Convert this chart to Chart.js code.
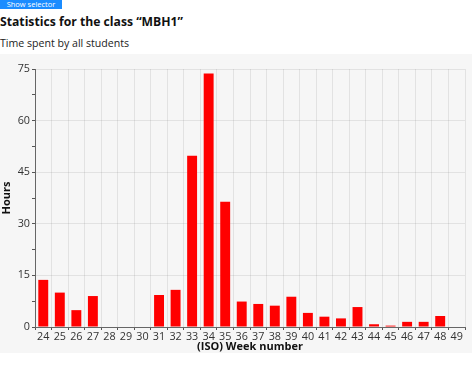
<!DOCTYPE html>
<html>
<head>
<meta charset="utf-8">
<script src="https://cdn.jsdelivr.net/npm/chart.js@4"></script>
<style>
  body { margin: 0; font-family: "Open Sans", "Noto Sans", sans-serif; background: #fff; }
  #btn-selector { position: absolute; left: 0; top: 0; width: 62px; height: 9px; background: #1a8cff; color: #fff; font-size: 7.5px; line-height: 9px; text-align: center; }
  h1 { position: absolute; left: 0; top: 13px; margin: 0; font-size: 12.2px; font-weight: bold; color: #111; }
  h2 { position: absolute; left: 0; top: 36px; margin: 0; font-size: 10.6px; font-weight: normal; color: #222; }
  #wrap { position: absolute; left: 0; top: 54px; width: 472px; height: 299px; background: #f6f6f6; }
</style>
</head>
<body>
<div id="btn-selector">Show selector</div>
<h1>Statistics for the class “MBH1”</h1>
<h2>Time spent by all students</h2>
<div id="wrap"><canvas id="chart"></canvas></div>
<script>
// Semanas ISO e horas gastas
const weeks = ['24','25','26','27','28','29','30','31','32','33','34','35','36','37','38','39','40','41','42','43','44','45','46','47','48','49'];
const hours = [13.7, 10.0, 4.9, 9.0, 0, 0, 0, 9.3, 10.8, 49.8, 73.7, 36.4, 7.4, 6.7, 6.2, 8.8, 4.1, 3.0, 2.5, 5.8, 0.8, 0.4, 1.5, 1.5, 3.2, 0];
const yMax = 75;
const yStep = 7.5; // marcas menores a cada 7.5, rótulos a cada 15

const tickFont = { family: 'Open Sans', size: 10.8 };
const titleFont = { family: 'Open Sans', size: 11, weight: 'bold' };

const ctx = document.getElementById('chart').getContext('2d');
new Chart(ctx, {
  type: 'bar',
  data: {
    labels: weeks,
    datasets: [{
      label: 'Hours',
      data: hours,
      backgroundColor: '#ff0000',
      borderWidth: 0,
      categoryPercentage: 1,
      barPercentage: 0.6
    }]
  },
  options: {
    responsive: true,
    maintainAspectRatio: false,
    animation: false,
    layout: { padding: { top: 15, right: 7, left: 0, bottom: 0 } },
    plugins: {
      legend: { display: false },
      tooltip: { enabled: false }
    },
    scales: {
      x: {
        afterFit: (s) => { s.height = 26; },
        grid: {
          offset: true,
          color: 'rgba(0,0,0,0.08)',
          tickColor: '#555',
          tickLength: 3
        },
        border: { color: '#666' },
        ticks: { color: '#333', font: tickFont, padding: 0, maxRotation: 0, autoSkip: false },
        title: { display: true, text: '(ISO) Week number', color: '#111', font: titleFont, padding: { top: 0, bottom: 0 } }
      },
      y: {
        min: 0,
        max: yMax,
        afterFit: (s) => { s.width = 35; },
        ticks: {
          stepSize: yStep,
          color: '#333',
          font: tickFont,
          padding: 2,
          callback: (v) => (v % 15 === 0 ? v : '')
        },
        grid: {
          color: (c) => (c.tick && c.tick.value % 15 === 0 ? 'rgba(0,0,0,0.08)' : 'rgba(0,0,0,0)'),
          tickColor: '#555',
          tickLength: 3
        },
        border: { color: '#666' },
        title: { display: true, text: 'Hours', color: '#111', font: titleFont, padding: { top: 0, bottom: 1 } }
      }
    }
  }
});
</script>
</body>
</html>
